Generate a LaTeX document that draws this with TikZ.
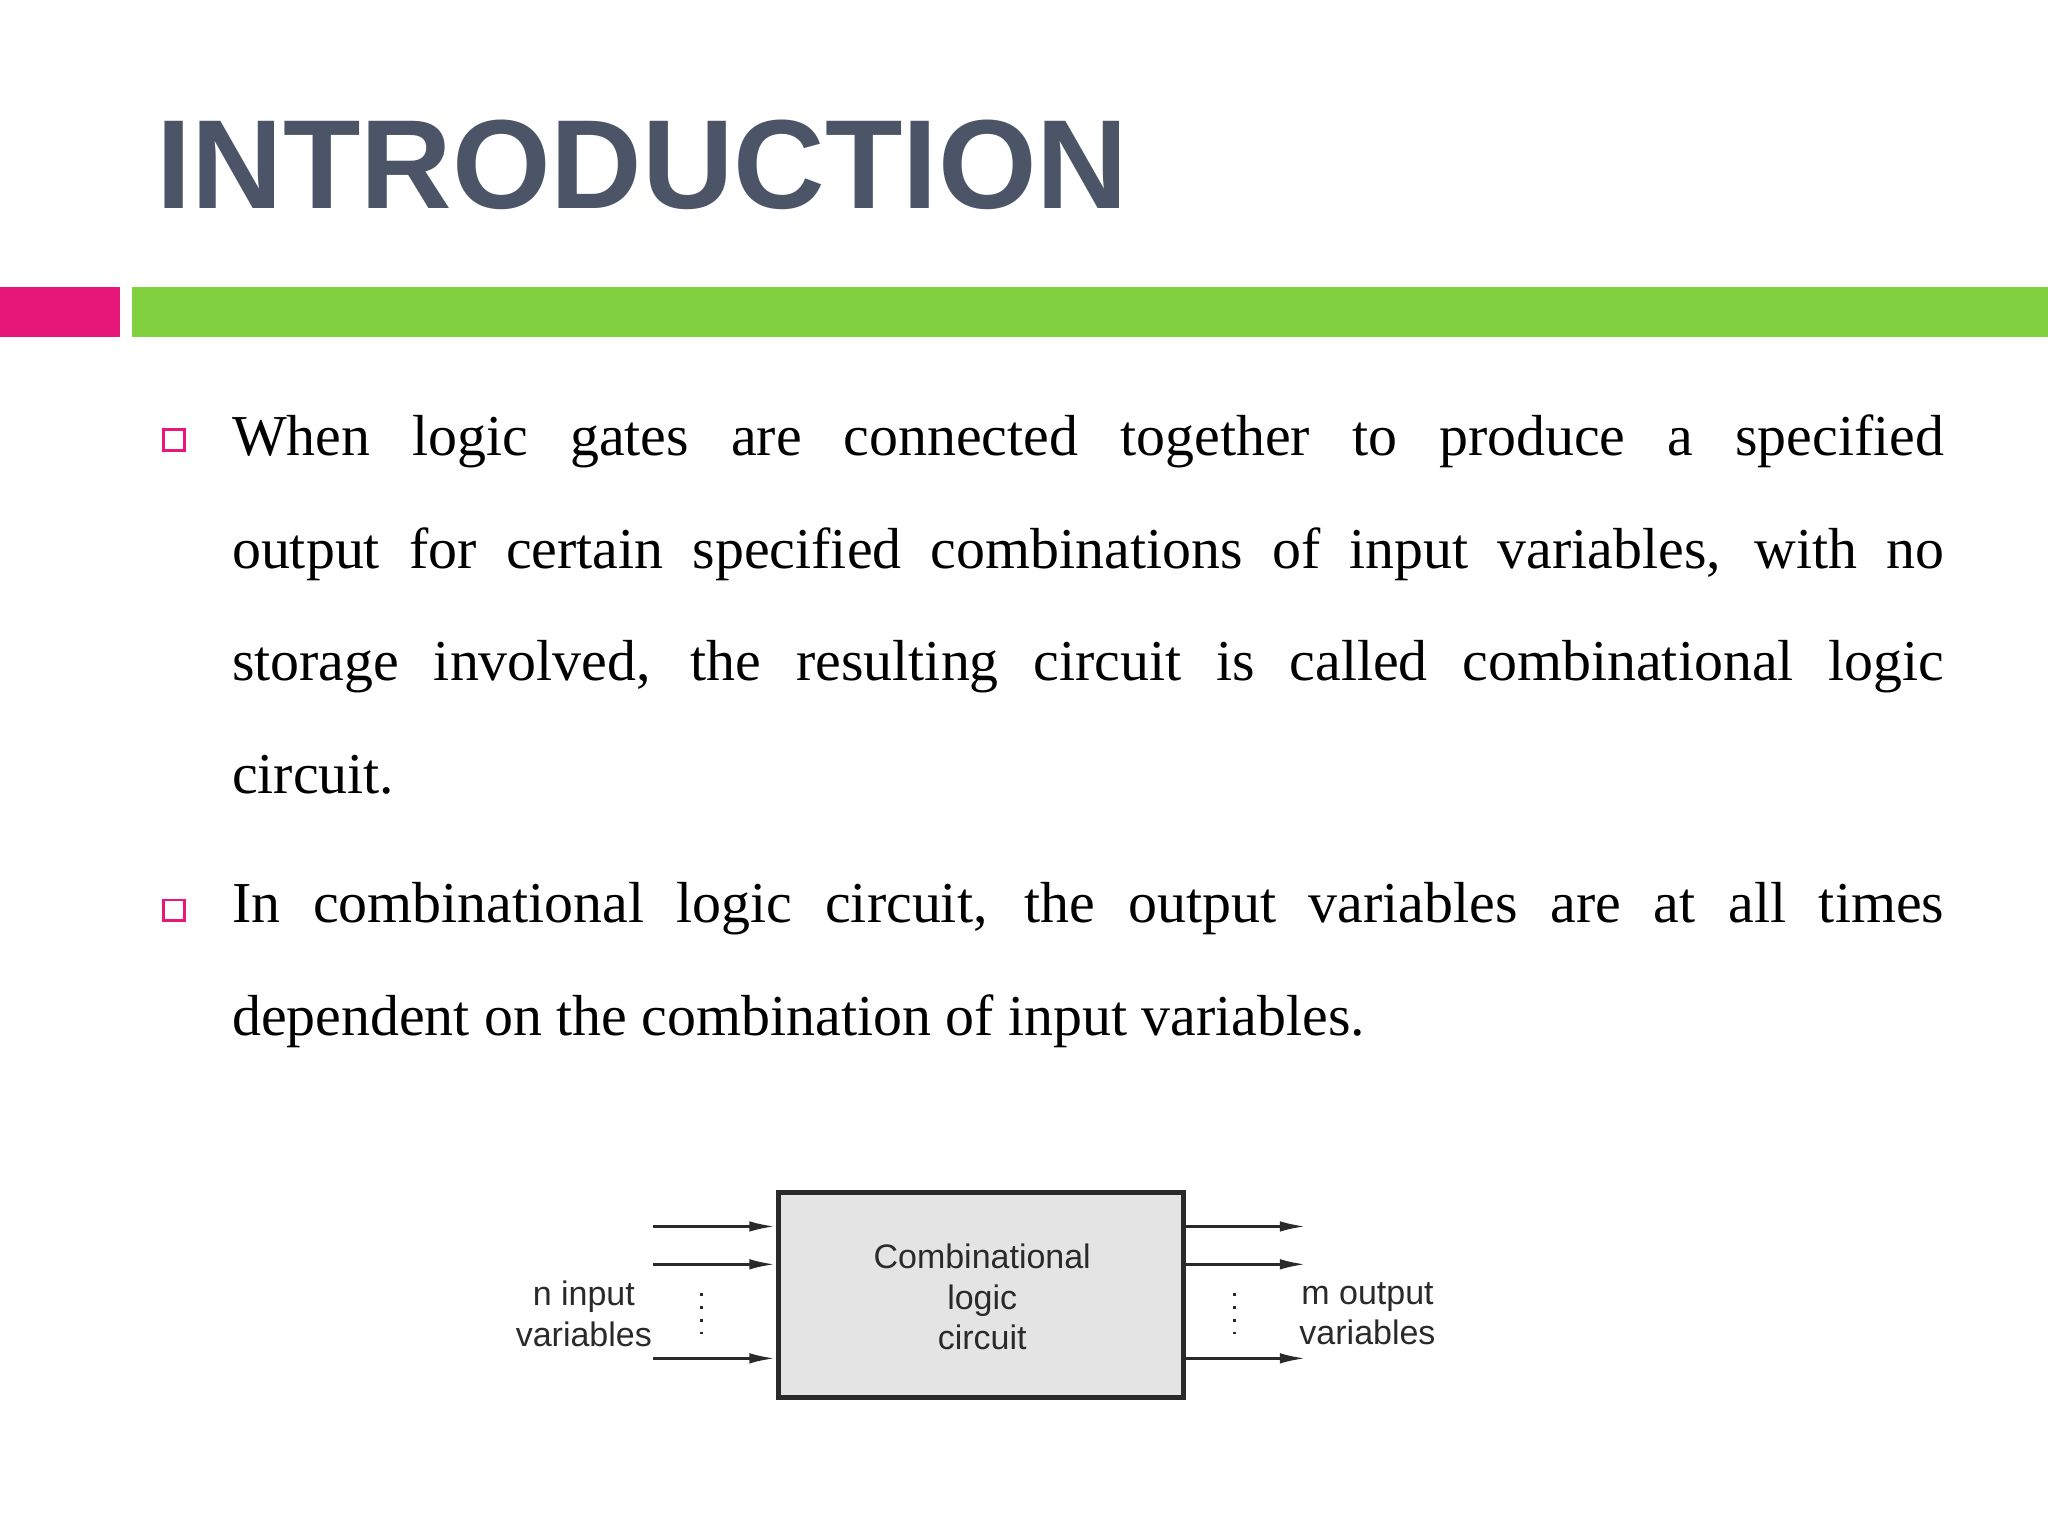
\documentclass[tikz,border=0pt]{standalone}
\usepackage{fontspec}
\setmainfont{Liberation Serif}
\newfontfamily\sansf{Liberation Sans}
\usetikzlibrary{arrows.meta}
\definecolor{titlec}{HTML}{4B5567}
\definecolor{pinkc}{HTML}{E8177A}
\definecolor{greenc}{HTML}{80D040}
\definecolor{boxg}{HTML}{E4E4E4}
\definecolor{dg}{HTML}{2A2A2A}
\tikzset{
  bodytext/.style={anchor=north west,inner sep=0pt,text width=13.1cm,align=justify,font=\fontsize{12.6pt}{24.5pt}\selectfont},
  bulletbox/.style={draw=pinkc,line width=0.6pt,minimum size=0.16cm,inner sep=0pt},
  sig/.style={draw=dg,line width=0.65pt,-{Latex[length=0.2cm,width=0.08cm]}},
  dlabel/.style={font=\sansf\fontsize{7.4pt}{8.8pt}\selectfont,text=dg,align=center,inner sep=0pt}
}
\begin{document}
\begin{tikzpicture}[x=0.01cm,y=-0.01cm]
\useasboundingbox (0,0) rectangle (1568,1176);
\fill[white] (0,0) rectangle (1568,1176);
\node[anchor=base west,inner sep=0pt,text=titlec,font=\sansf\bfseries\fontsize{27.6pt}{28pt}\selectfont] (title) at (119,160) {INTRODUCTION};
\fill[pinkc] (0,220) rectangle (92,258);
\fill[greenc] (101,220) rectangle (1568,258);
\node[bulletbox] (b1) at (133,337) {};
\node[bulletbox] (b2) at (133,697) {};
\node[bodytext] (t1) at (177,317) {When logic gates are connected together to produce a specified\linebreak output for certain specified combinations of input variables, with no\linebreak storage involved, the resulting circuit is called combinational logic\linebreak circuit.};
\node[bodytext] (t2) at (177,675) {In combinational logic circuit, the output variables are at all times\linebreak dependent on the combination of input variables.};
\node[draw=dg,line width=1.2pt,fill=boxg,minimum width=3.1cm,minimum height=1.57cm,inner sep=0pt] (box) at (751,991.5) {};
\node[dlabel] (bt) at (752,993) {Combinational\\logic\\circuit};
\foreach \y/\n in {939/a,968/b,1040/c}{
  \coordinate (i\n) at (500,\y);
  \coordinate (o\n) at (1000,\y);
  \draw[sig] (i\n) -- (box.west |- i\n);
  \draw[sig] (box.east |- o\n) -- (o\n);
}
\draw[dg,line width=0.6pt,dash pattern=on 0.6pt off 2.2pt] (537,990) -- (537,1022);
\draw[dg,line width=0.6pt,dash pattern=on 0.6pt off 2.2pt] (945,990) -- (945,1022);
\node[dlabel] (nin) at (447,1006) {n input\\variables};
\node[dlabel] (mout) at (1047,1006) {m output\\variables};
\end{tikzpicture}
\end{document}
